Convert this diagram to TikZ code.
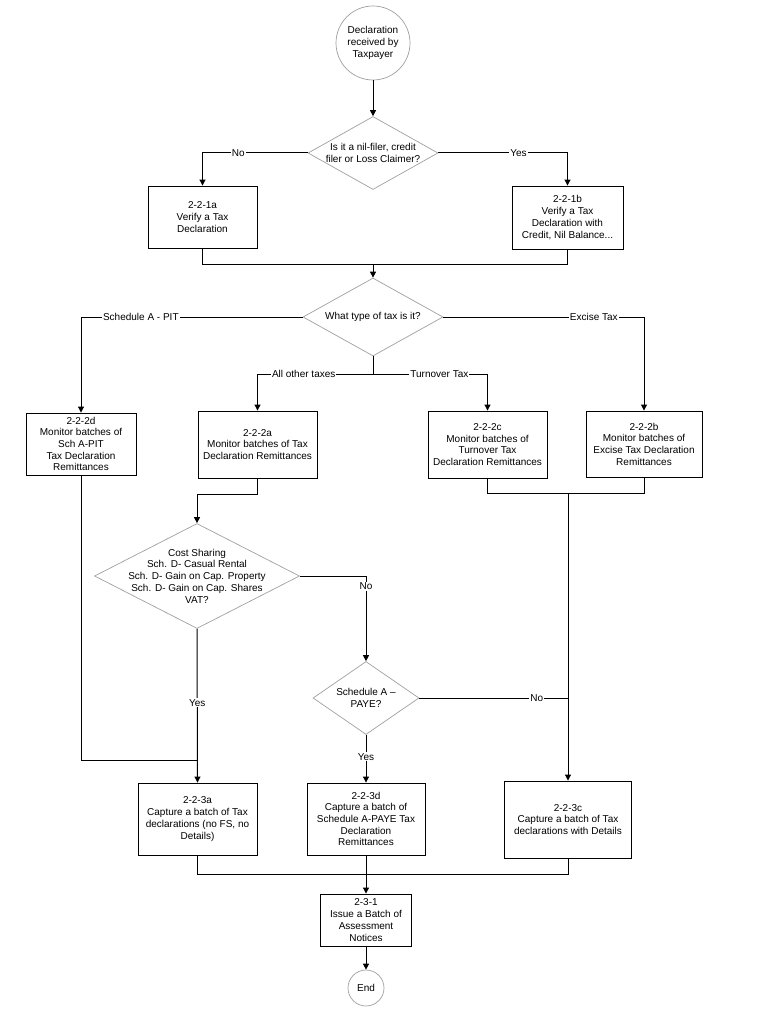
\documentclass[tikz,border=0pt]{standalone}
\usepackage{fontspec}
\setmainfont{Liberation Sans}
\usetikzlibrary{shapes.geometric,arrows.meta}
\begin{document}
\begin{tikzpicture}[x=1pt,y=-1pt,
  every node/.style={font=\fontsize{10}{11.7}\selectfont},
  box/.style={draw, line width=0.9pt, align=center, inner sep=0pt},
  dec/.style={diamond, draw=gray!75, line width=0.7pt, inner sep=0pt},
  term/.style={circle, draw=gray!75, line width=0.7pt, align=center, inner sep=0pt},
  conn/.style={line width=1pt},
  arr/.style={conn, -{Triangle[length=6pt,width=6pt]}},
  lbl/.style={fill=white, inner sep=1pt}]
\useasboundingbox (0,0) rectangle (768,1024);

% terminals
\node[term, minimum size=74pt] (start) at (373,43) {Declaration\\received by\\Taxpayer};
\node[term, minimum size=36pt] (end) at (366,988) {End};

% decisions
\node[dec, minimum width=130pt, minimum height=73pt,
  label={[align=center]center:{Is it a nil-filer, credit\\filer or Loss Claimer?}}] (d1) at (373,153) {};
\node[dec, minimum width=140pt, minimum height=78pt,
  label={[align=center]center:{What type of tax is it?}}] (d2) at (373,317) {};
\node[dec, minimum width=205pt, minimum height=105pt,
  label={[align=center]center:{Cost Sharing\\Sch. D- Casual Rental\\Sch. D- Gain on Cap. Property\\Sch. D- Gain on Cap. Shares\\VAT?}}] (d3) at (197,576) {};
\node[dec, minimum width=106pt, minimum height=73pt,
  label={[align=center]center:{Schedule A --\\PAYE?}}] (d4) at (366,698) {};

% boxes
\node[box, minimum width=109pt, minimum height=62pt] (b1a) at (202.5,217) {2-2-1a\\Verify a Tax\\Declaration};
\node[box, minimum width=111pt, minimum height=63pt] (b1b) at (567.5,217.5) {2-2-1b\\Verify a Tax\\Declaration with\\Credit, Nil Balance...};
\node[box, minimum width=110pt, minimum height=62pt] (b2d) at (81,444) {2-2-2d\\Monitor batches of\\Sch A-PIT\\Tax Declaration\\Remittances};
\node[box, minimum width=119pt, minimum height=67pt] (b2a) at (257.5,444.5) {2-2-2a\\Monitor batches of Tax\\Declaration Remittances};
\node[box, minimum width=119pt, minimum height=67pt] (b2c) at (487.5,444.5) {2-2-2c\\Monitor batches of\\Turnover Tax\\Declaration Remittances};
\node[box, minimum width=116pt, minimum height=66pt] (b2b) at (644,444) {2-2-2b\\Monitor batches of\\Excise Tax Declaration\\Remittances};
\node[box, minimum width=119pt, minimum height=72pt] (b3a) at (197.5,819) {2-2-3a\\Capture a batch of Tax\\declarations (no FS, no\\Details)};
\node[box, minimum width=118pt, minimum height=72pt] (b3d) at (366,819) {2-2-3d\\Capture a batch of\\Schedule A-PAYE Tax\\Declaration\\Remittances};
\node[box, minimum width=127pt, minimum height=77pt] (b3c) at (568,819.5) {2-2-3c\\Capture a batch of Tax\\declarations with Details};
\node[box, minimum width=91pt, minimum height=52pt] (b31) at (366,920) {2-3-1\\Issue a Batch of\\Assessment\\Notices};

% junction coordinates
\coordinate (m1) at (373,264);
\coordinate (m2) at (373,374);
\coordinate (m3) at (568,493);
\coordinate (m4) at (366,874);
\coordinate (j1) at (197.5,760);
\coordinate (j2) at (568,698);

% connectors
\draw[arr] (start.south) -- (d1.north);
\draw[arr] (d1.west) -| node[lbl, pos=0.33]{No} (b1a.north);
\draw[arr] (d1.east) -| node[lbl, pos=0.31]{Yes} (b1b.north);
\draw[conn] (b1a.south) |- (m1);
\draw[conn] (b1b.south) |- (m1);
\draw[arr] (m1) -- (d2.north);

\draw[arr] (d2.west) -| node[lbl, pos=0.365]{Schedule A - PIT} (b2d.north);
\draw[arr] (d2.east) -| node[lbl, pos=0.375]{Excise Tax} (b2b.north);
\draw[conn] (d2.south) -- (m2);
\draw[arr] (m2) -| node[lbl, pos=0.3]{All other taxes} (b2a.north);
\draw[arr] (m2) -| node[lbl, pos=0.29]{Turnover Tax} (b2c.north);

\draw[arr] (b2a.south) -- ++(0,16) -| (d3.north);
\draw[arr] (d3.east) -| node[lbl, pos=0.56]{No} (d4.north);
\draw[arr] (d3.south) -- node[lbl, pos=0.48]{Yes} (b3a.north);
\draw[conn] (b2d.south) |- (j1);
\draw[arr] (d4.south) -- node[lbl, pos=0.46]{Yes} (b3d.north);

\draw[conn] (b2c.south) |- (m3);
\draw[conn] (b2b.south) |- (m3);
\draw[arr] (m3) -- (b3c.north);
\draw[conn] (d4.east) -- node[lbl, pos=0.79]{No} (j2);

\draw[conn] (b3a.south) |- (m4);
\draw[conn] (b3c.south) |- (m4);
\draw[conn] (b3d.south) -- (m4);
\draw[arr] (m4) -- (b31.north);
\draw[arr] (b31.south) -- (end.north);
\end{tikzpicture}
\end{document}
